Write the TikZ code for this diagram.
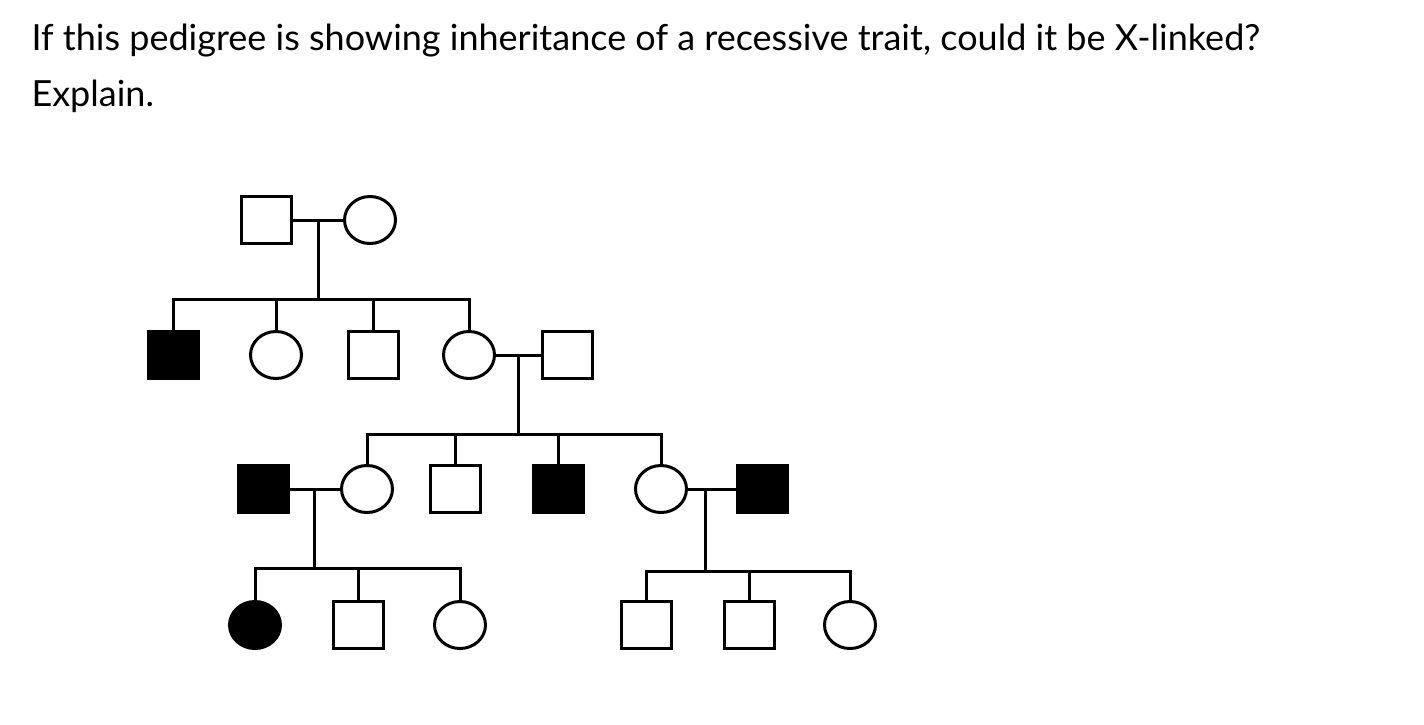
\documentclass[tikz,border=0pt]{standalone}
\usepackage{fontspec}
\setmainfont{Lato}
\usetikzlibrary{shapes.geometric}
\begin{document}
\begin{tikzpicture}[x=1pt,y=-1pt,line width=3pt,
  sq/.style={draw,minimum width=50pt,minimum height=47pt,inner sep=0pt,outer sep=0pt},
  ci/.style={draw,ellipse,minimum width=51pt,minimum height=47pt,inner sep=0pt,outer sep=0pt},
  aff/.style={fill=black}]
\useasboundingbox (0,0) rectangle (1424,724);
\node[anchor=base west,font=\fontsize{36}{44}\selectfont,inner sep=0pt] (t1) at (30,50) {If this pedigree is showing inheritance of a recessive trait, could it be X-linked?};
\node[anchor=base west,font=\fontsize{36}{44}\selectfont,inner sep=0pt] (t2) at (30,106) {Explain.};
% Gen I
\node[sq] (a1) at (266,220) {};
\node[ci] (a2) at (370,220) {};
% Gen II
\node[sq,aff] (b1) at (173,355) {};
\node[ci] (b2) at (276,355) {};
\node[sq] (b3) at (373,355) {};
\node[ci] (b4) at (469,355) {};
\node[sq] (b5) at (567,355) {};
% Gen III
\node[sq,aff] (c1) at (263,489) {};
\node[ci] (c2) at (367,489) {};
\node[sq] (c3) at (455,489) {};
\node[sq,aff] (c4) at (558,489) {};
\node[ci] (c5) at (661,489) {};
\node[sq,aff] (c6) at (762,489) {};
% Gen IV
\node[ci,aff] (d1) at (255,625) {};
\node[sq] (d2) at (358,625) {};
\node[ci] (d3) at (460,625) {};
\node[sq] (d4) at (646,625) {};
\node[sq] (d5) at (749,625) {};
\node[ci] (d6) at (850,625) {};
\begin{scope}[line cap=rect]
\draw (a1.east) -- (a2.west);
\coordinate (m1) at (318,220);
\coordinate (s1) at (318,299);
\draw (m1) -- (s1);
\draw (b1.north |- s1) -- (b4.north |- s1);
\foreach \n in {b1,b2,b3,b4} \draw (\n.north |- s1) -- (\n.north);
\draw (b4.east) -- (b5.west);
\coordinate (m2) at (518,355);
\coordinate (s2) at (518,434);
\draw (m2) -- (s2);
\draw (c2.north |- s2) -- (c5.north |- s2);
\foreach \n in {c2,c3,c4,c5} \draw (\n.north |- s2) -- (\n.north);
\draw (c1.east) -- (c2.west);
\coordinate (m3) at (314,489);
\coordinate (s3) at (314,568);
\draw (m3) -- (s3);
\draw (d1.north |- s3) -- (d3.north |- s3);
\foreach \n in {d1,d2,d3} \draw (\n.north |- s3) -- (\n.north);
\draw (c5.east) -- (c6.west);
\coordinate (m4) at (705,489);
\coordinate (s4) at (705,571);
\draw (m4) -- (s4);
\draw (d4.north |- s4) -- (d6.north |- s4);
\foreach \n in {d4,d5,d6} \draw (\n.north |- s4) -- (\n.north);
\end{scope}
\end{tikzpicture}
\end{document}
